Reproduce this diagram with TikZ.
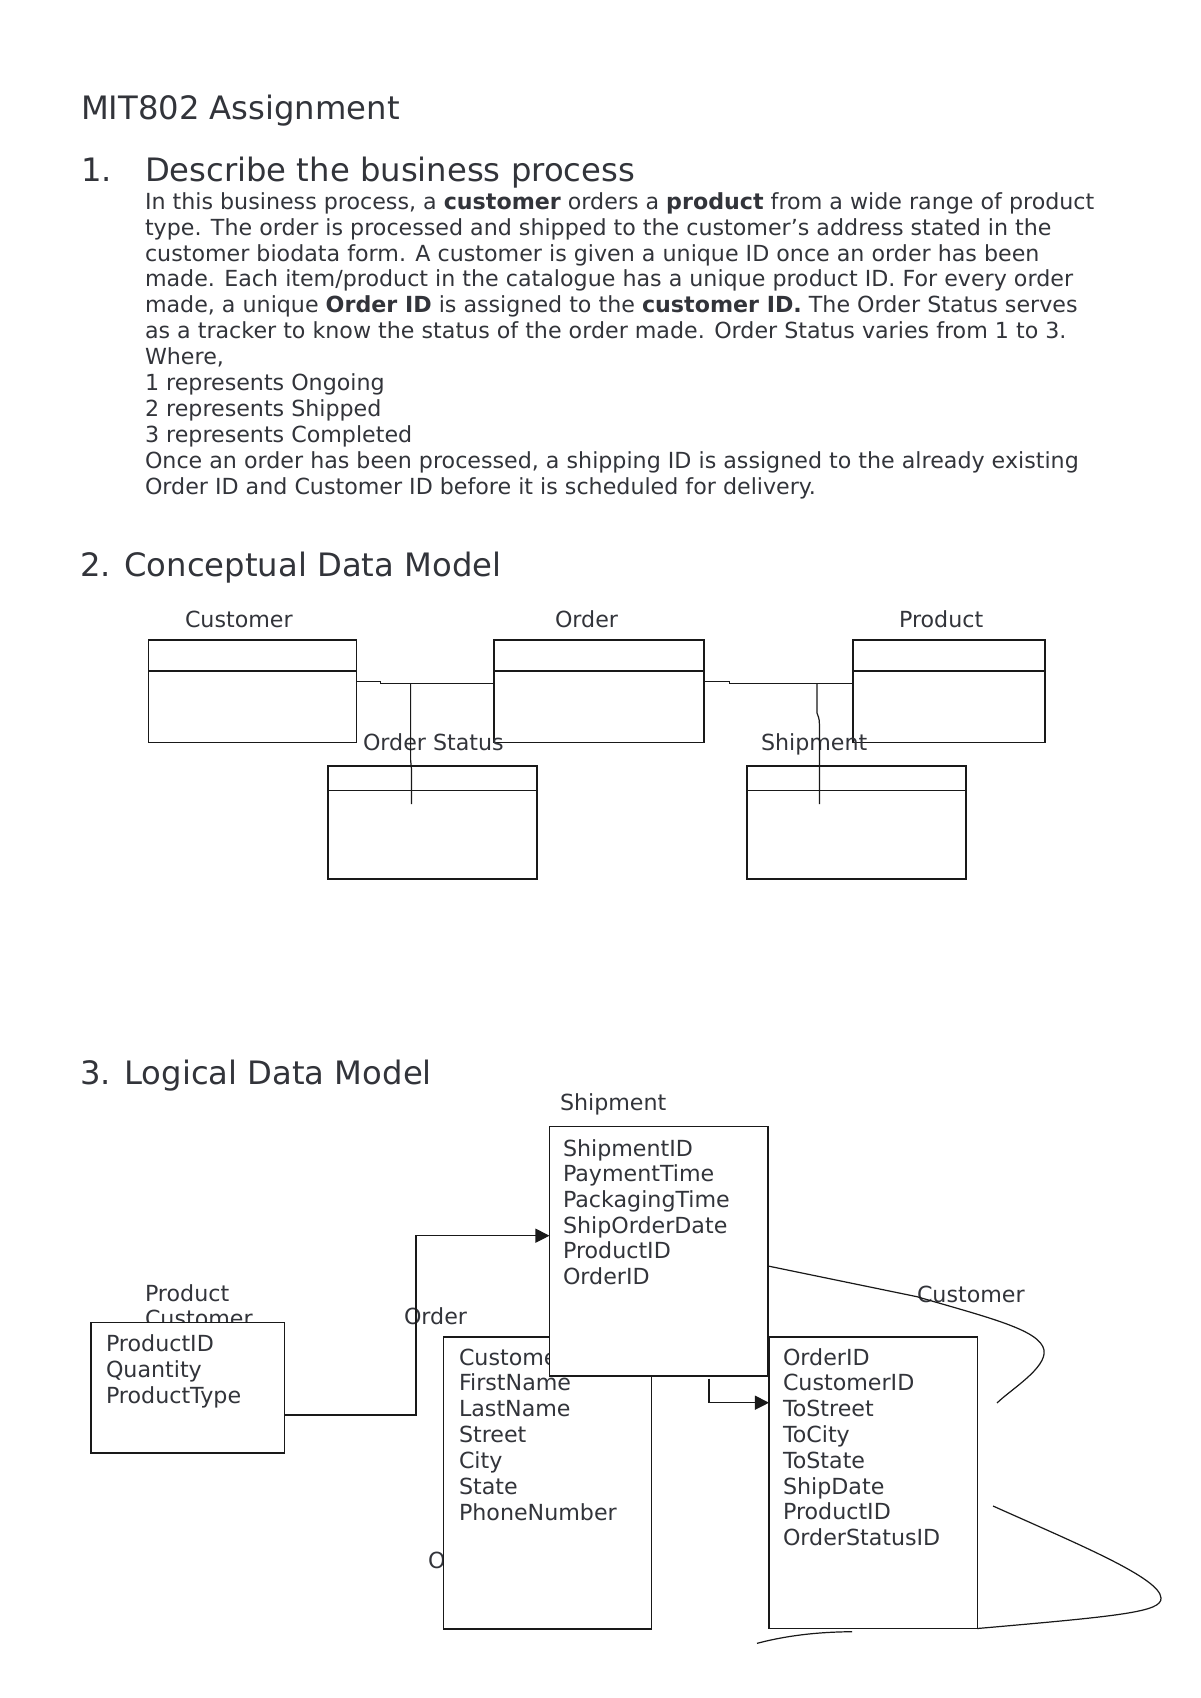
\documentclass[tikz,border=0pt]{standalone}
\usepackage{fontspec}
\setmainfont{DejaVu Sans}
\usetikzlibrary{arrows.meta,fit}
\definecolor{txt}{RGB}{50,52,58}
\definecolor{ln}{RGB}{25,25,25}
\begin{document}
\begin{tikzpicture}[x=0.49608pt,y=-0.49608pt,
  every node/.style={inner sep=0pt, outer sep=0pt, text=txt},
  ttl/.style={anchor=base west, font=\fontsize{16}{19}\selectfont},
  body/.style={anchor=base west, font=\fontsize{11}{13}\selectfont},
  lbl/.style={anchor=base west, font=\fontsize{11}{13}\selectfont},
  ent/.style={draw=ln, line width=0.6pt, fill=white},
  conn/.style={draw=ln, line width=0.6pt},
  arr/.style={conn, -{Triangle[length=7pt,width=7pt]}},
]
\useasboundingbox (0,0) rectangle (1200,1698);

% ---------- Section 1 ----------
\node[ttl] (title) at (81,120) {MIT802 Assignment};
\node[ttl] (h1num) at (81,181.5) {1.};
\node[ttl] (h1) at (145,181.5) {Describe the business process};
\node[body] (b1) at (145,209.3) {In this business process, a \textbf{customer} orders a \textbf{product} from a wide range of product};
\node[body] (b2) at (145,235.2) {type. The order is processed and shipped to the customer’s address stated in the};
\node[body] (b3) at (145,261.1) {customer biodata form. A customer is given a unique ID once an order has been};
\node[body] (b4) at (145,287.0) {made. Each item/product in the catalogue has a unique product ID. For every order};
\node[body] (b5) at (145,312.9) {made, a unique \textbf{Order ID} is assigned to the \textbf{customer ID.} The Order Status serves};
\node[body] (b6) at (145,338.8) {as a tracker to know the status of the order made. Order Status varies from 1 to 3.};
\node[body] (b7) at (145,364.7) {Where,};
\node[body] (b8) at (145,390.6) {1 represents Ongoing};
\node[body] (b9) at (145,416.5) {2 represents Shipped};
\node[body] (b10) at (145,442.4) {3 represents Completed};
\node[body] (b11) at (145,468.3) {Once an order has been processed, a shipping ID is assigned to the already existing};
\node[body] (b12) at (145,494.2) {Order ID and Customer ID before it is scheduled for delivery.};

% ---------- Section 2 ----------
\node[ttl] (h2) at (80,576) {2. Conceptual Data Model};

\node[lbl] (cCt) at (185,627) {Customer};
\node[lbl] (cOt) at (555,627) {Order};
\node[lbl] (cPt) at (899,627) {Product};

\node[ent, fit={(148.5,640) (356.4,742.7)}] (cC) {};
\node[ent, fit={(494,640) (704,742.7)}] (cO) {};
\node[ent, fit={(853,640) (1045,742.7)}] (cP) {};
\draw[conn] (cC.west |- 0,671) -- (cC.east |- 0,671);
\draw[conn] (cO.west |- 0,671) -- (cO.east |- 0,671);
\draw[conn] (cP.west |- 0,671) -- (cP.east |- 0,671);

\node[ent, fit={(328,766) (537,879)}] (cS) {};
\node[ent, fit={(747,766) (966,879)}] (cSh) {};
\draw[conn] (cS.west |- 0,790.7) -- (cS.east |- 0,790.7);
\draw[conn] (cSh.west |- 0,790.7) -- (cSh.east |- 0,790.7);
\node[lbl] (cSt) at (363,750) {Order Status};
\node[lbl] (cSht) at (761,750) {Shipment};

\coordinate (j1) at (410.6,683.3);
\coordinate (e1) at (411.4,804);
\coordinate (j2) at (817,683.3);
\coordinate (e2) at (819.4,804);
\draw[conn] (cC.east |- 0,681.7) -- (380.6,681.7) -- (380.6,683.3) -- (cO.west |- 0,683.3);
\draw[conn] (cO.east |- 0,681.7) -- (729.5,681.7) -- (729.5,683.3) -- (cP.west |- 0,683.3);
\draw[conn] (j1) -- (410.6,760) -- (411.4,768) -- (e1);
\draw[conn] (j2) -- (817,713) .. controls (818,716) and (819.4,718) .. (819.4,724) -- (e2);

% ---------- Section 3 ----------
\node[ttl] (h3) at (80,1084) {3. Logical Data Model};

% Product entity
\node[lbl] (lPt) at (145,1301) {Product};
\node[lbl] (lPt2) at (145,1326.5) {Customer};
\node[ent, fit={(91,1322.7) (284.5,1453)}] (lP) {};
\foreach \t [count=\i from 0] in {ProductID,Quantity,ProductType}
  \node[lbl] (pf\i) at (106,{1351+26*\i}) {\t};

% Order label and connector Product -> Shipment
\node[lbl] (lOt) at (404,1324.5) {Order};
\coordinate (k1) at (416,1415);
\coordinate (k2) at (416,1235.7);

% Lone letter
\node[lbl] (lO) at (428,1568) {O};

% Customer entity
\node[ent, fit={(443.5,1337) (651.5,1629)}] (lC) {};
\foreach \t [count=\i from 0] in {CustomerID,FirstName,LastName,Street,City,State,PhoneNumber}
  \node[lbl] (cf\i) at (459,{1365+25.9*\i}) {\t};

% Shipment entity
\node[lbl] (lSt) at (560,1110) {Shipment};
\node[ent, fit={(549.5,1126.5) (768,1376)}] (lS) {};
\foreach \t [count=\i from 0] in {ShipmentID,PaymentTime,PackagingTime,ShipOrderDate,ProductID,OrderID}
  \node[lbl] (sf\i) at (563,{1156+25.7*\i}) {\t};

\draw[arr] (lP.east |- k1) -- (k1) -- (k2) -- (lS.west |- k2);

% Order entity
\node[ent, fit={(769,1337) (977.3,1628.5)}] (lO2) {};
\foreach \t [count=\i from 0] in {OrderID,CustomerID,ToStreet,ToCity,ToState,ShipDate,ProductID,OrderStatusID}
  \node[lbl] (of\i) at (783,{1365+25.8*\i}) {\t};

\coordinate (k3) at (709,1378.6);
\coordinate (k4) at (709,1402.7);
\draw[arr] (k3) -- (k4) -- (lO2.west |- k4);

% Free curves
\node[lbl] (lCt) at (917,1302) {Customer};
\coordinate (c1e) at (997,1403);
\draw[conn] (lS.east |- 0,1266) -- (917,1296.7) .. controls (990,1318) and (1040,1330) .. (1044,1350) .. controls (1047,1368) and (1010,1390) .. (c1e);
\coordinate (c2s) at (993,1506);
\draw[conn] (c2s) .. controls (1080,1545) and (1160,1578) .. (1161,1598) .. controls (1162,1612) and (1120,1616) .. (lO2.south east);
\coordinate (c3s) at (757,1643.3);
\coordinate (c3e) at (852,1631.7);
\draw[conn] (c3s) .. controls (785,1636) and (815,1632) .. (c3e);

\end{tikzpicture}
\end{document}
